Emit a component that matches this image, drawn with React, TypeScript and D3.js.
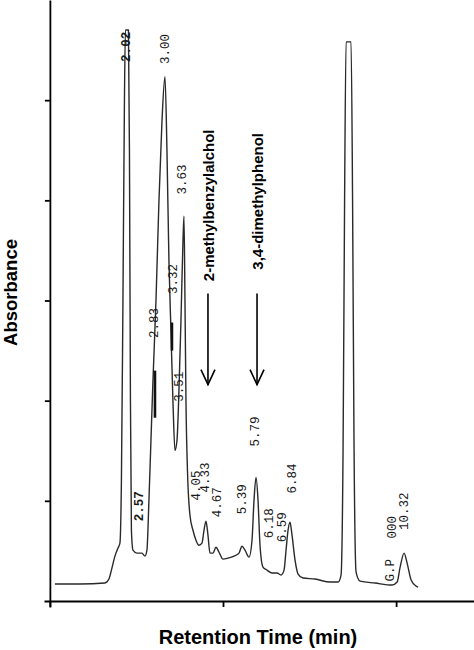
import React, { useEffect, useRef } from 'react';
import * as d3 from 'd3';

// chromatogram trace (min, absorbance in tick units)
const retentionTime = [
  0.145, 0.867, 1.59, 1.705, 1.792, 1.879, 1.965, 2.023, 2.066, 2.11,
  2.153, 2.182, 2.269, 2.298, 2.327, 2.355, 2.399, 2.514, 2.659, 2.746,
  2.803, 2.861, 2.919, 2.977, 3.064, 3.15, 3.237, 3.324, 3.382, 3.439,
  3.497, 3.555, 3.613, 3.671, 3.728, 3.786, 3.844, 3.873, 3.902, 3.931,
  3.974, 4.046, 4.133, 4.22, 4.306, 4.393, 4.451, 4.509, 4.566, 4.624,
  4.711, 4.798, 4.884, 5.0, 5.145, 5.318, 5.462, 5.549, 5.636, 5.751,
  5.838, 5.896, 5.954, 6.012, 6.069, 6.156, 6.272, 6.416, 6.561, 6.676,
  6.763, 6.821, 6.879, 6.936, 6.994, 7.081, 7.168, 7.312, 7.659, 8.092,
  8.324, 8.41, 8.468, 8.512, 8.555, 8.699, 8.743, 8.786, 8.844, 8.96,
  9.393, 9.884, 10.029, 10.116, 10.231, 10.318, 10.434, 10.578, 10.636,
];
const absorbance = [
  0.169, 0.169, 0.179, 0.219, 0.328, 0.448, 0.527, 0.577, 1.204, 2.995,
  4.985, 5.701, 5.701, 4.488, 1.99, 0.706, 0.507, 0.478, 0.478, 0.448,
  0.507, 1.005, 1.602, 2.199, 2.995, 3.99, 4.786, 5.234, 4.488, 3.393,
  2.697, 1.99, 1.502, 1.602, 2.1, 2.796, 3.592, 3.841, 2.995, 1.99,
  1.303, 0.856, 0.706, 0.607, 0.557, 0.577, 0.706, 0.796, 0.657, 0.478,
  0.478, 0.537, 0.488, 0.418, 0.428, 0.448, 0.478, 0.547, 0.507, 0.438,
  0.607, 1.005, 1.234, 1.005, 0.557, 0.338, 0.308, 0.279, 0.279, 0.259,
  0.308, 0.507, 0.706, 0.786, 0.657, 0.408, 0.269, 0.229, 0.219, 0.189,
  0.189, 0.259, 1.502, 3.99, 5.582, 5.582, 3.99, 1.502, 0.289, 0.199,
  0.179, 0.159, 0.189, 0.338, 0.478, 0.378, 0.209, 0.149, 0.139,
];

// integrator printout labels
const peakLabels = ['2.02', '3.00', '3.63', '3.32', '2.83', '3.51', '2.57', '4.05', '4.33',
  '4.67', '5.39', '5.79', '6.18', '6.59', '6.84', 'G.P', '000', '10.32'];
const peakLabelTime = [2.225, 3.353, 3.844, 3.584, 3.035, 3.757, 2.601, 4.249, 4.509,
  4.855, 5.578, 5.954, 6.358, 6.734, 7.023, 9.855, 9.913, 10.26];
const peakLabelLevel = [5.532, 5.512, 4.209, 3.214, 2.776, 2.139, 0.945, 1.154, 1.234,
  0.985, 1.015, 1.692, 0.776, 0.736, 1.224, 0.308, 0.736, 0.896];

// small integrator tick marks on the trace
const markerTime = [3.035, 3.526];
const markerLow = [1.83, 2.5];
const markerHigh = [2.3, 2.78];

const compounds = ['2-methylbenzylalchol', '3,4-dimethylphenol'];
const compoundTime = [4.566, 5.983];
const compoundLevel = [3.95, 3.99];
const arrowTop = 3.07;
const arrowTip = 2.16;

const xTicks = [0, 5, 10];
const yTicks = [1, 2, 3, 4, 5];

const W = 474;
const H = 650;

const App: React.FC = () => {
  const ref = useRef<SVGSVGElement>(null);

  useEffect(() => {
    const svg = d3.select(ref.current);
    svg.selectAll('*').remove();

    const x = d3.scaleLinear().domain([-0.17, 12.25]).range([44, 474]);
    const y = d3.scaleLinear().domain([-0.06, 6]).range([607, 0]);

    // axes, unlabelled ticks
    svg.append('g')
      .attr('transform', `translate(${x(0)},0)`)
      .call(d3.axisLeft(y).tickValues(yTicks).tickSize(5).tickSizeOuter(0).tickFormat(() => ''))
      .call(g => g.selectAll('path, line').attr('stroke', '#000').attr('stroke-width', 1.8));

    svg.append('g')
      .attr('transform', `translate(0,${y(0)})`)
      .call(d3.axisBottom(x).tickValues(xTicks).tickSize(6).tickSizeOuter(0).tickFormat(() => ''))
      .call(g => g.selectAll('path, line').attr('stroke', '#000').attr('stroke-width', 1.8));

    const line = d3.line<number>()
      .x((_, i) => x(retentionTime[i]))
      .y(d => y(d))
      .curve(d3.curveMonotoneX);

    svg.append('path')
      .datum(absorbance)
      .attr('d', line)
      .attr('fill', 'none')
      .attr('stroke', '#2a2a2a')
      .attr('stroke-width', 1.4)
      .attr('stroke-linejoin', 'round');

    svg.append('g')
      .selectAll('line')
      .data(markerTime)
      .join('line')
      .attr('x1', d => x(d))
      .attr('x2', d => x(d))
      .attr('y1', (_, i) => y(markerLow[i]))
      .attr('y2', (_, i) => y(markerHigh[i]))
      .attr('stroke', '#111')
      .attr('stroke-width', 2.6);

    svg.append('g')
      .selectAll('text')
      .data(peakLabels)
      .join('text')
      .attr('transform', (_, i) => `translate(${x(peakLabelTime[i])},${y(peakLabelLevel[i])}) rotate(-90)`)
      .attr('text-anchor', 'middle')
      .attr('dominant-baseline', 'central')
      .attr('font-family', '"Liberation Mono", "DejaVu Sans Mono", monospace')
      .attr('font-size', 12.5)
      .attr('font-weight', d => (d === '2.02' || d === '2.57' ? 'bold' : 'normal'))
      .attr('fill', '#1a1a1a')
      .text(d => d);

    // compound annotations with arrows
    const ann = svg.append('g').selectAll('g').data(compounds).join('g');
    ann.append('text')
      .attr('transform', (_, i) => `translate(${x(compoundTime[i]) + 6},${y(compoundLevel[i])}) rotate(-90)`)
      .attr('text-anchor', 'middle')
      .attr('font-family', '"Liberation Sans", Arial, sans-serif')
      .attr('font-weight', 'bold')
      .attr('font-size', 15)
      .text(d => d);
    ann.append('line')
      .attr('x1', (_, i) => x(compoundTime[i]))
      .attr('x2', (_, i) => x(compoundTime[i]))
      .attr('y1', y(arrowTop))
      .attr('y2', y(arrowTip))
      .attr('stroke', '#000')
      .attr('stroke-width', 1.6);
    ann.append('path')
      .attr('d', (_, i) => {
        const cx = x(compoundTime[i]);
        const ty = y(arrowTip);
        return `M${cx - 7},${ty - 15}L${cx},${ty}L${cx + 7},${ty - 15}`;
      })
      .attr('fill', 'none')
      .attr('stroke', '#000')
      .attr('stroke-width', 1.6);

    svg.append('text')
      .attr('transform', `translate(17,${(y(0) + y(6)) / 2 - 8}) rotate(-90)`)
      .attr('text-anchor', 'middle')
      .attr('font-family', '"Liberation Sans", Arial, sans-serif')
      .attr('font-weight', 'bold')
      .attr('font-size', 18.5)
      .text('Absorbance');

    svg.append('text')
      .attr('x', 258)
      .attr('y', 644)
      .attr('text-anchor', 'middle')
      .attr('font-family', '"Liberation Sans", Arial, sans-serif')
      .attr('font-weight', 'bold')
      .attr('font-size', 20)
      .text('Retention Time (min)');
  }, []);

  return (
    <svg
      ref={ref}
      width={W}
      height={H}
      style={{ position: 'absolute', left: 0, top: 0, background: '#fff' }}
    />
  );
};

export default App;
